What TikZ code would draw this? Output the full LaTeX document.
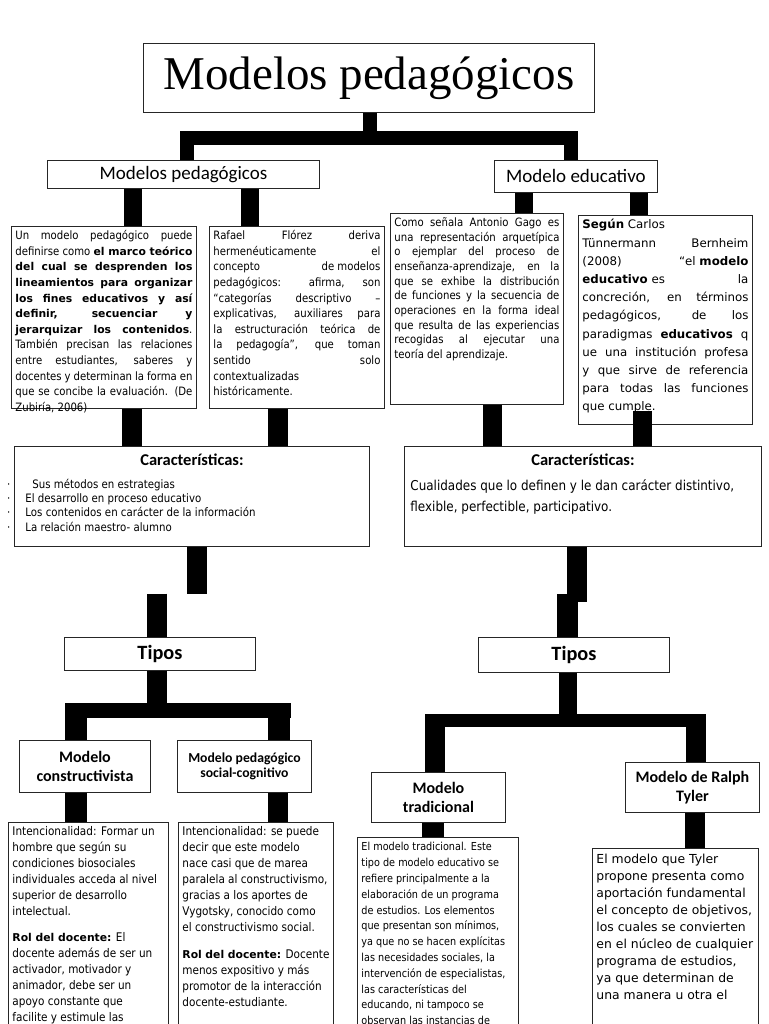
\documentclass[tikz,border=0pt]{standalone}
\usepackage{fontspec}
\setmainfont{Liberation Serif}
\newfontfamily\tahoma{DejaVu Sans}[FakeStretch=0.88]
\newfontfamily\verdana{DejaVu Sans}
\newfontfamily\calibri{Carlito}
\usetikzlibrary{calc}
\setlength{\parindent}{0pt}
\tikzset{
  caja/.style={draw=black!85, line width=0.9pt, fill=white, anchor=north west, inner sep=0pt, align=center},
  cajat/.style={draw=black!85, line width=0.9pt, fill=white, anchor=north west, inner sep=4pt},
  barra/.style={draw=black, line width=18pt},
}
\newcommand{\encab}{\calibri\fontsize{19}{22}\selectfont}
\newcommand{\tipo}[2]{\calibri\bfseries\fontsize{#1}{#2}\selectfont}
\newcommand{\just}[1]{\makebox[\linewidth][s]{#1}\par}
\newcommand{\linea}[1]{#1\par}
\newcommand{\negrita}{\verdana\bfseries\fontsize{10.8}{15.6}\selectfont}
\newcommand{\rol}{\verdana\bfseries\fontsize{10.8}{16}\selectfont}
\newcommand{\punto}{\leavevmode\llap{·\hspace{8pt}}}
\newcommand{\cajatexto}[6]{%
  \node[cajat] (#1) at (#2,#3)
    {\begin{minipage}[t][\dimexpr#5pt-8pt\relax][t]{\dimexpr#4pt-8pt\relax}#6\end{minipage}};}

\begin{document}
\begin{tikzpicture}[x=1pt,y=-1pt]
  \useasboundingbox (0,0) rectangle (768,1024);
  \fill[white] (0,0) rectangle (768,1024);
  % encabezados
  \node[caja, minimum width=451pt, minimum height=69pt, font=\fontsize{47}{50}\selectfont] (titulo) at (143,43) {Modelos pedagógicos};
  \node[caja, minimum width=272pt, minimum height=28pt, font=\encab] (mp) at (47,160) {Modelos pedagógicos};
  \node[caja, minimum width=163pt, minimum height=32pt, font=\encab] (me) at (494,160) {Modelo educativo};
  % textos de definicion
  \cajatexto{A}{11}{226}{185}{182}{\tahoma\fontsize{11.5}{15.6}\selectfont
    \just{Un modelo pedagógico puede}
    \just{definirse como {\negrita el marco teórico}}
    \just{\negrita del cual se desprenden los}
    \just{\negrita lineamientos para organizar}
    \just{\negrita los fines educativos y así}
    \just{\negrita definir, secuenciar y}
    \just{{\negrita jerarquizar los contenidos}.}
    \just{También precisan las relaciones}
    \just{entre estudiantes, saberes y}
    \just{docentes y determinan la forma en}
    \just{que se concibe la evaluación. (De}
    \linea{Zubiría, 2006)}}
  \cajatexto{B}{209}{226}{175}{182}{\tahoma\fontsize{11.5}{15.6}\selectfont
    \just{Rafael Flórez deriva}
    \just{hermenéuticamente el}
    \just{concepto \mbox{de modelos}}
    \just{pedagógicos: afirma, son}
    \just{“categorías descriptivo –}
    \just{explicativas, auxiliares para}
    \just{la estructuración teórica de}
    \just{la pedagogía”, que toman}
    \just{sentido solo}
    \linea{contextualizadas}
    \linea{históricamente.}}
  \cajatexto{C}{390}{213}{173}{191}{\tahoma\fontsize{11.5}{14.7}\selectfont
    \just{Como señala Antonio Gago es}
    \just{una representación arquetípica}
    \just{o ejemplar del proceso de}
    \just{enseñanza-aprendizaje, en la}
    \just{que se exhibe la distribución}
    \just{de funciones y la secuencia de}
    \just{operaciones en la forma ideal}
    \just{que resulta de las experiencias}
    \just{recogidas al ejecutar una}
    \linea{teoría del aprendizaje.}}
  \cajatexto{D}{578}{215}{174}{209}{\verdana\fontsize{11.8}{18.2}\selectfont
    \linea{{\bfseries Según} Carlos}
    \just{Tünnermann Bernheim}
    \just{(2008) \mbox{“el {\bfseries modelo}}}
    \just{\mbox{{\bfseries educativo} es} la}
    \just{concreción, en términos}
    \just{pedagógicos, de los}
    \just{paradigmas {\bfseries educativos} q}
    \just{ue una institución profesa}
    \just{y que sirve de referencia}
    \just{para todas las funciones}
    \linea{que cumple.}}
  % caracteristicas
  \cajatexto{carL}{14}{446}{355}{100}{\vspace*{3pt}
    \makebox[\linewidth]{\tipo{16.5}{20}Características:}\par
    \vspace{9pt}
    {\tahoma\fontsize{11.6}{14.3}\selectfont
    \punto\hspace*{14pt}Sus métodos en estrategias\par
    \punto\hspace*{7pt}El desarrollo en proceso educativo\par
    \punto\hspace*{7pt}Los contenidos en carácter de la información\par
    \punto\hspace*{7pt}La relación maestro- alumno\par}}
  \cajatexto{carR}{404}{446}{357}{100}{\vspace*{3pt}
    \makebox[\linewidth]{\tipo{16.5}{20}Características:}\par
    \vspace{4pt}
    {\tahoma\fontsize{13.6}{21}\selectfont\hspace*{2pt}Cualidades que lo definen y le dan carácter distintivo,\par
    \hspace*{2pt}flexible, perfectible, participativo.\par}}
  % tipos
  \node[caja, minimum width=191pt, minimum height=33pt, font=\tipo{20.3}{24}] (tiposL) at (64,637) {Tipos};
  \node[caja, minimum width=191pt, minimum height=35pt, font=\tipo{20.3}{24}] (tiposR) at (478,637) {Tipos};
  \node[caja, minimum width=131pt, minimum height=52pt, font=\tipo{16}{19}] (cons) at (19,740) {Modelo\\constructivista};
  \node[caja, minimum width=134pt, minimum height=52pt, font=\tipo{13.7}{15.5}] (soc) at (177,740) {Modelo pedagógico\\social-cognitivo};
  \node[caja, minimum width=134pt, minimum height=50pt, font=\tipo{16}{19}] (trad) at (371,772) {Modelo\\tradicional};
  \node[caja, minimum width=134pt, minimum height=50pt, font=\tipo{16}{19}] (tyler) at (625,762) {Modelo de Ralph\\Tyler};
  % textos de los tipos
  \cajatexto{E}{8}{822}{160}{215}{\tahoma\fontsize{11.9}{16}\selectfont\raggedright
    \linea{Intencionalidad: Formar un}
    \linea{hombre que según su}
    \linea{condiciones biosociales}
    \linea{individuales acceda al nivel}
    \linea{superior de desarrollo}
    \linea{intelectual.}
    \vspace{9.7pt}
    \linea{{\rol Rol del docente:} El}
    \linea{docente además de ser un}
    \linea{activador, motivador y}
    \linea{animador, debe ser un}
    \linea{apoyo constante que}
    \linea{facilite y estimule las}}
  \cajatexto{F}{178}{822}{155}{215}{\tahoma\fontsize{11.9}{16}\selectfont\raggedright
    \linea{Intencionalidad: se puede}
    \linea{decir que este modelo}
    \linea{nace casi que de marea}
    \linea{paralela al constructivismo,}
    \linea{gracias a los aportes de}
    \linea{Vygotsky, conocido como}
    \linea{el constructivismo social.}
    \vspace{10.7pt}
    \linea{{\rol Rol del docente:} Docente}
    \linea{menos expositivo y más}
    \linea{promotor de la interacción}
    \linea{docente-estudiante.}}
  \cajatexto{G}{357}{837}{161}{200}{\tahoma\fontsize{11}{15.8}\selectfont\raggedright
    \vspace*{1pt}
    \linea{El modelo tradicional. Este}
    \linea{tipo de modelo educativo se}
    \linea{refiere principalmente a la}
    \linea{elaboración de un programa}
    \linea{de estudios. Los elementos}
    \linea{que presentan son mínimos,}
    \linea{ya que no se hacen explícitas}
    \linea{las necesidades sociales, la}
    \linea{intervención de especialistas,}
    \linea{las características del}
    \linea{educando, ni tampoco se}
    \linea{observan las instancias de}}
  \cajatexto{H}{592}{848}{166}{190}{\verdana\fontsize{12.4}{17}\selectfont\raggedright
    \vspace*{2pt}
    \linea{El modelo que Tyler}
    \linea{propone presenta como}
    \linea{aportación fundamental}
    \linea{el concepto de objetivos,}
    \linea{los cuales se convierten}
    \linea{en el núcleo de cualquier}
    \linea{programa de estudios,}
    \linea{ya que determinan de}
    \linea{una manera u otra el}}
  % conectores
  \coordinate (ramaT) at (370,138);
  \draw[barra, line width=14pt] (titulo.south -| ramaT) -- (ramaT);
  \draw[barra, line width=14pt] (mp.north -| 187,0) |- (ramaT) -| (me.north -| 571,0);
  \draw[barra] (mp.south -| 133,0) -- (A.north -| 133,0);
  \draw[barra] (mp.south -| 250,0) -- (B.north -| 250,0);
  \draw[barra] (me.south -| 524,0) -- (C.north -| 524,0);
  \draw[barra] (me.south -| 639,0) -- (D.north -| 639,0);
  \draw[barra, line width=20pt] (A.south -| 132,0) -- (carL.north -| 132,0);
  \draw[barra, line width=20pt] (B.south -| 278,0) -- (carL.north -| 278,0);
  \draw[barra, line width=19pt] (C.south -| 492,0) -- (carR.north -| 492,0);
  \draw[barra, line width=19pt] (D.south -| 642,0) ++(0,-14) -- (carR.north -| 642,0);
  % quiebres hacia tipos
  \coordinate (quiebreL) at (177,593.5);
  \draw[barra, line width=20pt] (carL.south -| 197,0) -- (quiebreL -| 197,0);
  \draw[barra, line width=20pt] (quiebreL -| 157,0) -- (tiposL.north -| 157,0);
  \coordinate (finR) at (577,602);
  \coordinate (inicioR) at (567,594);
  \draw[barra, line width=20pt] (carR.south -| finR) -- (finR);
  \draw[barra, line width=21pt] (inicioR) -- (tiposR.north -| inicioR);
  % ramas de tipos
  \coordinate (ramaL) at (157,710);
  \draw[barra, line width=20pt] (tiposL.south -| ramaL) -- (ramaL);
  \draw[barra, line width=15pt] (ramaL -| 65,0) -- (ramaL -| 291,0);
  \draw[barra, line width=22pt] (cons.north -| 76,0) -- (ramaL -| 76,0);
  \draw[barra, line width=22pt] (soc.north -| 279,0) -- (ramaL -| 279,0);
  \coordinate (ramaR) at (568,720);
  \draw[barra] (tiposR.south -| ramaR) -- (ramaR);
  \draw[barra, line width=13pt] (ramaR -| 425,0) -- (ramaR -| 706,0);
  \draw[barra, line width=20pt] (trad.north -| 435,0) -- (ramaR -| 435,0);
  \draw[barra, line width=20pt] (tyler.north -| 696,0) -- (ramaR -| 696,0);
  \draw[barra, line width=22pt] (cons.south -| 76,0) -- (E.north -| 76,0);
  \draw[barra, line width=20pt] (soc.south -| 278,0) -- (F.north -| 278,0);
  \draw[barra, line width=22pt] (trad.south -| 433,0) -- (G.north -| 433,0);
  \draw[barra, line width=20pt] (tyler.south -| 695,0) -- (H.north -| 695,0);
\end{tikzpicture}
\end{document}
